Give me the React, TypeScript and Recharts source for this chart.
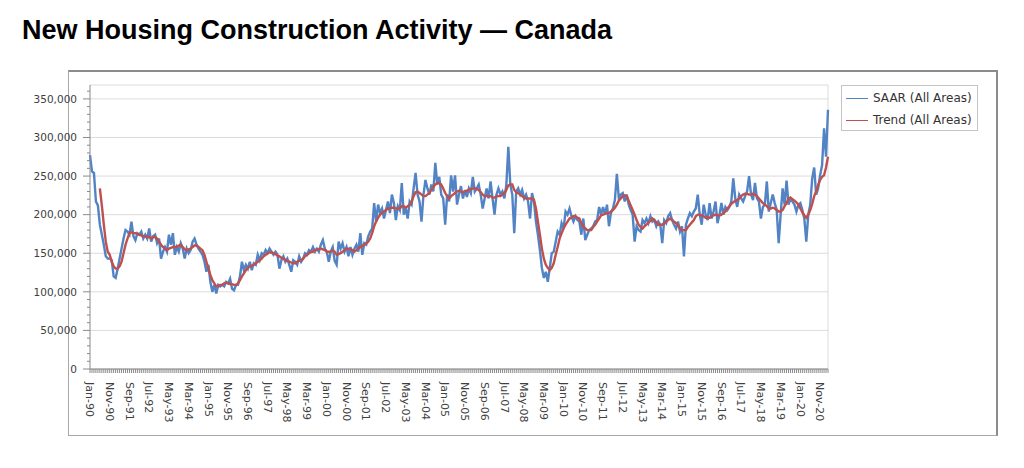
import React from 'react';
import { LineChart, Line, XAxis, YAxis, CartesianGrid, Legend, ReferenceLine } from 'recharts';

// Monthly housing starts, seasonally adjusted annual rate, in thousands of units (Jan-1990 onward)
const saarK: number[] = [
  277, 256, 254, 217, 212, 187, 174, 161, 146, 143, 143, 141,
  120, 118, 130, 143, 156, 169, 180, 178, 174, 191, 172, 167,
  176, 174, 178, 169, 174, 169, 182, 165, 172, 174, 163, 169,
  143, 152, 158, 152, 174, 161, 176, 148, 158, 152, 163, 156,
  143, 156, 150, 154, 165, 169, 161, 156, 152, 148, 139, 126,
  135, 113, 100, 109, 98, 109, 107, 109, 107, 113, 111, 117,
  104, 102, 109, 109, 120, 139, 128, 135, 130, 139, 128, 137,
  135, 148, 141, 150, 148, 154, 150, 156, 152, 148, 152, 148,
  130, 141, 146, 139, 143, 135, 126, 141, 139, 135, 146, 139,
  143, 150, 148, 154, 152, 158, 152, 156, 152, 161, 167, 156,
  152, 139, 152, 158, 140, 135, 165, 156, 163, 152, 158, 146,
  158, 148, 156, 161, 152, 176, 148, 163, 161, 172, 178, 182,
  215, 191, 213, 202, 208, 195, 206, 217, 202, 226, 215, 193,
  211, 206, 241, 200, 208, 195, 217, 213, 234, 254, 226, 217,
  191, 226, 245, 234, 226, 239, 230, 267, 239, 249, 226, 221,
  187, 226, 217, 251, 230, 251, 213, 226, 237, 221, 232, 223,
  234, 228, 249, 230, 234, 239, 226, 208, 221, 234, 221, 243,
  221, 200, 226, 234, 226, 230, 221, 239, 288, 239, 226, 176,
  230, 234, 226, 232, 221, 226, 217, 195, 228, 217, 191, 174,
  154, 131, 118, 126, 113, 131, 150, 152, 165, 178, 174, 189,
  182, 204, 200, 208, 198, 191, 198, 193, 191, 174, 195, 167,
  174, 180, 182, 185, 191, 193, 210, 200, 210, 200, 213, 185,
  202, 208, 219, 253, 221, 226, 228, 217, 226, 213, 206, 200,
  165, 185, 180, 178, 193, 189, 195, 189, 198, 191, 193, 185,
  191, 187, 163, 193, 189, 198, 202, 193, 187, 182, 191, 178,
  185, 146, 187, 195, 202, 198, 204, 208, 226, 200, 187, 213,
  200, 193, 215, 195, 204, 217, 189, 200, 215, 200, 210, 206,
  210, 217, 247, 221, 210, 226, 221, 217, 224, 230, 250, 226,
  219, 241, 221, 217, 195, 210, 213, 243, 204, 215, 226, 215,
  206, 163, 200, 234, 213, 244, 213, 221, 217, 213, 204, 213,
  215, 206, 195, 165, 200, 213, 247, 261, 226, 234, 251, 264,
  312, 275, 336,
];

// Trend series, thousands of units; starts a few months after the SAAR series
const trendK: (number | null)[] = [
  null, null, null, null, null, 234, 212, 187, 165, 152, 148, 139,
  133, 130, 130, 133, 139, 150, 161, 169, 176, 177, 176, 176,
  175, 174, 173, 172, 172, 171, 171, 169, 171, 171, 169, 165,
  161, 158, 156, 154, 156, 157, 158, 158, 158, 160, 161, 158,
  155, 154, 155, 156, 158, 160, 160, 158, 156, 154, 148, 139,
  130, 122, 115, 111, 107, 107, 109, 109, 111, 112, 111, 110,
  110, 109, 109, 111, 115, 120, 124, 128, 131, 133, 134, 135,
  137, 139, 141, 143, 146, 148, 150, 151, 151, 150, 149, 147,
  146, 144, 143, 141, 140, 139, 138, 137, 137, 139, 140, 141,
  143, 146, 148, 150, 152, 152, 154, 155, 155, 156, 155, 154,
  152, 152, 152, 154, 152, 148, 149, 150, 152, 154, 156, 156,
  155, 154, 152, 154, 156, 158, 160, 161, 163, 165, 169, 176,
  185, 191, 196, 200, 202, 204, 206, 208, 208, 209, 209, 208,
  208, 208, 211, 211, 209, 211, 213, 217, 224, 229, 230, 228,
  226, 224, 224, 226, 228, 232, 236, 239, 241, 241, 239, 234,
  228, 224, 221, 224, 226, 228, 230, 231, 230, 229, 230, 231,
  232, 233, 234, 234, 233, 232, 229, 226, 224, 224, 224, 224,
  222, 222, 224, 224, 224, 226, 228, 232, 238, 239, 239, 232,
  229, 228, 226, 224, 222, 221, 221, 221, 221, 219, 208, 191,
  174, 156, 143, 135, 131, 128, 131, 137, 148, 158, 169, 176,
  182, 187, 191, 195, 196, 198, 198, 196, 195, 189, 185, 182,
  180, 180, 180, 184, 187, 191, 195, 199, 200, 201, 202, 202,
  204, 206, 209, 213, 218, 221, 224, 225, 224, 218, 212, 206,
  200, 193, 187, 184, 182, 185, 187, 190, 192, 195, 193, 190,
  187, 187, 187, 189, 191, 193, 195, 193, 191, 189, 186, 182,
  180, 180, 180, 184, 187, 190, 193, 198, 200, 200, 199, 198,
  196, 196, 196, 198, 199, 200, 199, 199, 200, 202, 204, 208,
  211, 214, 216, 218, 219, 221, 224, 226, 227, 227, 226, 226,
  227, 226, 224, 221, 218, 215, 213, 211, 208, 208, 209, 208,
  206, 204, 204, 206, 211, 215, 221, 222, 220, 218, 216, 213,
  208, 203, 199, 196, 200, 206, 214, 224, 230, 238, 245, 249,
  251, 261, 275,
];

const MONTH_NAMES = ['Jan', 'Feb', 'Mar', 'Apr', 'May', 'Jun', 'Jul', 'Aug', 'Sep', 'Oct', 'Nov', 'Dec'];
const FIRST_YEAR = 1990;
const LABEL_EVERY = 10;

const yMajorTicks = [0, 50000, 100000, 150000, 200000, 250000, 300000, 350000];
const Y_MAX = 368000;
const Y_MINOR_STEP = 10000;

const SERIES_NAMES = ['SAAR (All Areas)', 'Trend (All Areas)'];
const COLORS = { saar: '#5283C4', trend: '#C0504D' };

const months: string[] = saarK.map(
  (_, i) => `${MONTH_NAMES[i % 12]}-${String((FIRST_YEAR + Math.floor(i / 12)) % 100).padStart(2, '0')}`
);

const yAllTicks: number[] = [];
for (let v = 0; v <= Y_MAX; v += Y_MINOR_STEP) yAllTicks.push(v);

const data = months.map((month, i) => ({
  month,
  saar: saarK[i] * 1000,
  trend: trendK[i] == null ? null : (trendK[i] as number) * 1000,
}));

const AXIS_FONT = '"DejaVu Sans", Verdana, sans-serif';
const AXIS_COLOR = '#8a8a8a';
const TEXT_COLOR = '#404040';
const Y_TICK_SIZE = 7;
const Y_TICK_MARGIN = 6;

const fmt = (v: number) => v.toLocaleString('en-US');

const XTick = (props: any) => {
  const { x, y, payload } = props;
  const idx = months.indexOf(payload.value);
  if (idx % LABEL_EVERY !== 0) return <g />;
  return (
    <text
      x={x}
      y={y}
      dy="0.35em"
      transform={`rotate(90, ${x}, ${y})`}
      textAnchor="start"
      fontFamily={AXIS_FONT}
      fontSize={11}
      fill={TEXT_COLOR}
    >
      {payload.value}
    </text>
  );
};

const YTick = (props: any) => {
  const { x, y, payload } = props;
  const axisX = x + Y_TICK_SIZE + Y_TICK_MARGIN;
  const major = payload.value % 50000 === 0;
  return (
    <g>
      <line x1={axisX - (major ? Y_TICK_SIZE : 3)} x2={axisX} y1={y} y2={y} stroke={AXIS_COLOR} strokeWidth={1} />
      {major && (
        <text x={x} y={y} dy="0.35em" textAnchor="end" fontFamily={AXIS_FONT} fontSize={10.5} fill={TEXT_COLOR}>
          {fmt(payload.value)}
        </text>
      )}
    </g>
  );
};

const LegendBox = (props: any) => {
  const payload = props.payload || [];
  return (
    <div
      style={{
        boxSizing: 'border-box',
        width: 137,
        height: 46,
        border: '1px solid #c4c4c4',
        background: '#fff',
        padding: '1px 4px',
        fontFamily: AXIS_FONT,
        fontSize: 12,
        color: '#333',
      }}
    >
      {payload.map((p: any) => (
        <div key={p.value} style={{ display: 'flex', alignItems: 'center', height: 22, whiteSpace: 'nowrap' }}>
          <span style={{ display: 'inline-block', width: 22, borderTop: `1.5px solid ${p.color}`, marginRight: 5 }} />
          <span>{p.value}</span>
        </div>
      ))}
    </div>
  );
};

export default function App() {
  return (
    <div style={{ position: 'absolute', left: 0, top: 0, width: 1024, height: 468, background: '#fff', overflow: 'hidden' }}>
      <div
        style={{
          position: 'absolute',
          left: 22,
          top: 15,
          fontFamily: '"Liberation Sans", Arial, Helvetica, sans-serif',
          fontWeight: 'bold',
          fontSize: 27,
          lineHeight: '30px',
          color: '#000',
          whiteSpace: 'nowrap',
        }}
      >
        New Housing Construction Activity — Canada
      </div>
      <div
        style={{
          position: 'absolute',
          left: 68,
          top: 70,
          width: 930,
          height: 366,
          boxSizing: 'border-box',
          border: '1px solid #a8a8a8',
          borderTop: '2px solid #8c8c8c',
          borderRight: '2px solid #8c8c8c',
        }}
      />
      <div style={{ position: 'absolute', left: 0, top: 0 }}>
        <LineChart width={1024} height={468} data={data} margin={{ top: 85, right: 196, bottom: 39, left: 30 }}>
          <YAxis
            yAxisId="left"
            type="number"
            width={60}
            domain={[0, Y_MAX]}
            ticks={yAllTicks}
            interval={0}
            allowDataOverflow
            tickSize={Y_TICK_SIZE}
            tickMargin={Y_TICK_MARGIN}
            tickLine={false}
            axisLine={{ stroke: AXIS_COLOR }}
            tick={<YTick />}
          />
          <YAxis yAxisId="grid" hide width={0} type="number" domain={[0, Y_MAX]} ticks={yMajorTicks} interval={0} allowDataOverflow />
          <CartesianGrid yAxisId="grid" vertical={false} stroke="#dcdcdc" />
          <XAxis
            dataKey="month"
            interval={0}
            height={60}
            tickSize={4}
            tickMargin={9}
            axisLine={{ stroke: AXIS_COLOR }}
            tickLine={{ stroke: AXIS_COLOR }}
            tick={<XTick />}
          />
          <ReferenceLine yAxisId="left" x={months[months.length - 1]} stroke="#dcdcdc" />
          <Legend
            layout="vertical"
            align="center"
            verticalAlign="middle"
            wrapperStyle={{ left: 841, top: 85, width: 137, height: 46 }}
            content={<LegendBox />}
          />
          <Line
            yAxisId="left"
            type="linear"
            dataKey="saar"
            name={SERIES_NAMES[0]}
            stroke={COLORS.saar}
            strokeWidth={2.4}
            dot={false}
            activeDot={false}
            isAnimationActive={false}
          />
          <Line
            yAxisId="left"
            type="linear"
            dataKey="trend"
            name={SERIES_NAMES[1]}
            stroke={COLORS.trend}
            strokeWidth={2.4}
            dot={false}
            activeDot={false}
            isAnimationActive={false}
          />
        </LineChart>
      </div>
    </div>
  );
}
